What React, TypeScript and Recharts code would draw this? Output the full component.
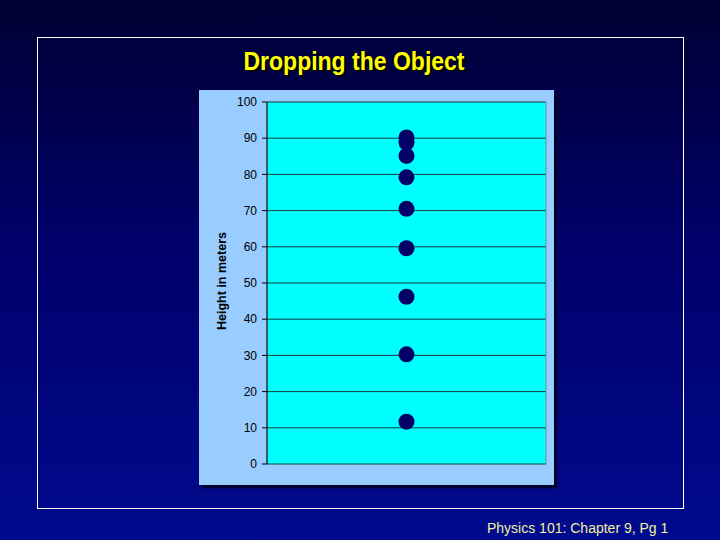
import React from "react";
import { ScatterChart, Scatter, XAxis, YAxis, CartesianGrid } from "recharts";

const heights = [90.2, 88.8, 85.1, 79.2, 70.5, 59.6, 46.2, 30.3, 11.7];
const yTicks = [0, 10, 20, 30, 40, 50, 60, 70, 80, 90, 100];
const title = "Dropping the Object";
const yLabel = "Height in meters";
const footer = "Physics 101: Chapter 9, Pg 1";

const data = heights.map((h) => ({ x: 1, y: h }));

const font = "'Liberation Sans', Arial, Helvetica, sans-serif";

const Dot = (p: any) => <circle cx={p.cx} cy={p.cy} r={8} fill="#000066" />;

export default function App() {
  return (
    <div
      style={{
        position: "fixed",
        left: 0,
        top: 0,
        width: 720,
        height: 540,
        overflow: "hidden",
        background: "linear-gradient(#000033 0%, #00006a 45%, #000a8e 100%)",
        fontFamily: font,
      }}
    >
      <div
        style={{
          position: "absolute",
          left: 37,
          top: 37,
          width: 645,
          height: 470,
          border: "1.5px solid #ffffff",
        }}
      />
      <div
        style={{
          position: "absolute",
          left: 0,
          width: 708,
          top: 48,
          textAlign: "center",
          color: "#ffff00",
          fontWeight: "bold",
          fontSize: 23,
          transform: "scaleY(1.1)",
          textShadow: "2px 2px 1px #000000",
        }}
      >
        {title}
      </div>
      <div
        style={{
          position: "absolute",
          left: 199,
          top: 90,
          width: 355,
          height: 395,
          background: "#99ccff",
          boxShadow: "3px 3px 2px #000022",
        }}
      >
        <ScatterChart
          width={355}
          height={395}
          margin={{ top: 12, right: 8, bottom: 21, left: 0 }}
        >
          <CartesianGrid
            horizontal={true}
            vertical={false}
            stroke="#1a3c3c"
            strokeOpacity={1}
            fill="#00ffff"
            fillOpacity={1}
          />
          <CartesianGrid horizontal={false} vertical={true} stroke="#6f8f9f" strokeOpacity={1} />
          <XAxis type="number" dataKey="x" domain={[0, 2]} ticks={[0, 2]} hide />
          <YAxis
            type="number"
            dataKey="y"
            domain={[0, 100]}
            ticks={yTicks}
            interval={0}
            width={68}
            tickSize={5}
            tickMargin={5}
            axisLine={{ stroke: "#000000" }}
            tickLine={{ stroke: "#000000" }}
            tick={{ fill: "#000000", fontSize: 12, fontFamily: font }}
            label={{
              content: (props: any) => {
                const vb = props.viewBox || {};
                const cx = 23;
                const cy = (vb.y || 0) + (vb.height || 0) / 2 - 2;
                return (
                  <text
                    x={cx}
                    y={cy}
                    transform={`rotate(-90 ${cx} ${cy})`}
                    textAnchor="middle"
                    dominantBaseline="central"
                    fill="#000000"
                    fontSize={12.5}
                    fontWeight="bold"
                    fontFamily={font}
                  >
                    {yLabel}
                  </text>
                );
              },
            }}
          />
          <Scatter data={data} fill="#000066" shape={Dot} isAnimationActive={false} />
        </ScatterChart>
      </div>
      <div
        style={{
          position: "absolute",
          left: 487,
          top: 520,
          width: 180,
          textAlign: "center",
          color: "#f0f0a0",
          fontSize: 14,
          whiteSpace: "nowrap",
        }}
      >
        {footer}
      </div>
    </div>
  );
}
